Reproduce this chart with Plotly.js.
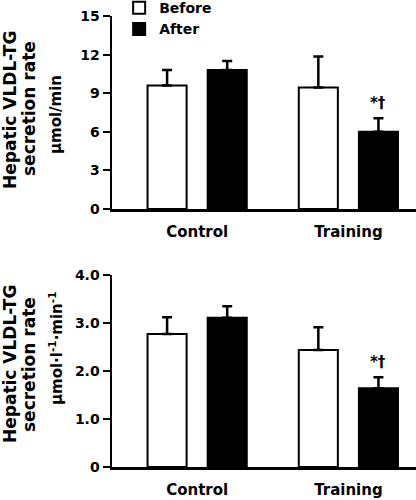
<!DOCTYPE html>
<html>
<head>
<meta charset="utf-8">
<script src="https://cdn.plot.ly/plotly-3.0.1.min.js"></script>
<style>
  html, body { margin: 0; padding: 0; background: #fff; }
  #chart { width: 416px; height: 500px; }
</style>
</head>
<body>
<div id="chart"></div>
<script>
// Hepatic VLDL-TG secretion, before vs after, in control and training groups
const groups = ['Control', 'Training'];

// Top panel: secretion rate, µmol/min (mean and SE)
const rateBefore = [9.6, 9.45];
const rateBeforeSE = [1.2, 2.4];
const rateAfter = [10.8, 6.0];
const rateAfterSE = [0.7, 1.05];

// Bottom panel: secretion rate, µmol·l⁻¹·min⁻¹ (mean and SE)
const concBefore = [2.77, 2.44];
const concBeforeSE = [0.35, 0.47];
const concAfter = [3.11, 1.64];
const concAfterSE = [0.24, 0.23];

const rateTicks = [0, 3, 6, 9, 12, 15];
const rateTickText = ['0', '3', '6', '9', '12', '15'];
const concTicks = [0, 1, 2, 3, 4];
const concTickText = ['0', '1.0', '2.0', '3.0', '4.0'];

const FONT = 'DejaVu Sans, Liberation Sans, Arial, sans-serif';
const zeros = groups.map(() => 0);

function errUp(se) {
  return { type: 'data', array: se, arrayminus: zeros, symmetric: false,
           color: '#000', thickness: 2.5, width: 5 };
}
function barTrace(name, y, se, fill, xa, ya, legend) {
  return {
    type: 'bar', name: name, x: groups, y: y,
    xaxis: xa, yaxis: ya, showlegend: legend,
    marker: { color: fill, line: { color: '#000', width: 2 } },
    error_y: errUp(se)
  };
}

const data = [
  barTrace('Before', rateBefore, rateBeforeSE, '#fff', 'x', 'y', true),
  barTrace('After', rateAfter, rateAfterSE, '#000', 'x', 'y', true),
  barTrace('Before', concBefore, concBeforeSE, '#fff', 'x2', 'y2', false),
  barTrace('After', concAfter, concAfterSE, '#000', 'x2', 'y2', false)
];

const ML = 112;
const tickFont = { family: FONT, size: 14, weight: 'bold', color: '#000' };
const catFont = { family: FONT, size: 15, weight: 'bold', color: '#000' };

function xAxis(anchor) {
  return {
    anchor: anchor, type: 'category', range: [-0.563, 1.447],
    showline: true, linecolor: '#000', linewidth: 2.5,
    ticks: '', showgrid: false, zeroline: false,
    tickfont: catFont, ticklabelstandoff: 7, fixedrange: true
  };
}
function yAxis(anchor, domain, range, vals, text) {
  return {
    anchor: anchor, domain: domain, range: range,
    tickvals: vals, ticktext: text, tickfont: tickFont,
    showline: true, linecolor: '#000', linewidth: 2.5,
    ticks: 'outside', ticklen: 7, tickwidth: 2, tickcolor: '#000',
    showgrid: false, zeroline: false, fixedrange: true
  };
}

// y-axis titles drawn as rotated text lines, positioned in pixels left of the axis
function titleLine(text, px, yPaper, size) {
  return {
    text: text, xref: 'paper', yref: 'paper', x: 0, y: yPaper,
    xanchor: 'center', yanchor: 'middle', xshift: px - ML,
    textangle: -90, showarrow: false,
    font: { family: FONT, size: size, weight: 'bold', color: '#000' }
  };
}

const PH = 451, PB = 467;
const py = p => (PB - p) / PH;

const annotations = [
  titleLine('Hepatic VLDL-TG', 10, py(110), 17),
  titleLine('secretion rate', 29, py(109), 17),
  titleLine('µmol/min', 56, py(115), 15),
  titleLine('Hepatic VLDL-TG', 10, py(364), 17),
  titleLine('secretion rate', 29, py(365), 17),
  titleLine('µmol·l<sup>-1</sup>·min<sup>-1</sup>', 56, py(349), 15),
  {
    text: '*†', x: 'Training', y: rateAfter[1] + rateAfterSE[1],
    xref: 'x', yref: 'y', xshift: 30, yshift: 4, yanchor: 'bottom',
    showarrow: false, font: { family: FONT, size: 15, weight: 'bold', color: '#000' }
  },
  {
    text: '*†', x: 'Training', y: concAfter[1] + concAfterSE[1],
    xref: 'x2', yref: 'y2', xshift: 30, yshift: 4, yanchor: 'bottom',
    showarrow: false, font: { family: FONT, size: 15, weight: 'bold', color: '#000' }
  }
];

const layout = {
  width: 416, height: 500,
  margin: { l: ML, r: 0, t: 16, b: 33, pad: 0, autoexpand: false },
  paper_bgcolor: '#fff', plot_bgcolor: '#fff',
  barmode: 'group', bargap: 0.205, bargroupgap: 0.35,
  font: { family: FONT, color: '#000' },
  xaxis: xAxis('y'),
  yaxis: yAxis('x', [py(209), 1], [0, 15], rateTicks, rateTickText),
  xaxis2: xAxis('y2'),
  yaxis2: yAxis('x2', [0, py(275)], [0, 4], concTicks, concTickText),
  showlegend: true,
  legend: {
    x: 0.0235, y: 1.053, xanchor: 'left', yanchor: 'top',
    bgcolor: 'rgba(0,0,0,0)', borderwidth: 0, tracegroupgap: 0,
    font: { family: FONT, size: 14, weight: 'bold', color: '#000' },
    itemclick: false, itemdoubleclick: false
  },
  annotations: annotations
};

Plotly.newPlot('chart', data, layout, { staticPlot: true, displayModeBar: false });
</script>
</body>
</html>
